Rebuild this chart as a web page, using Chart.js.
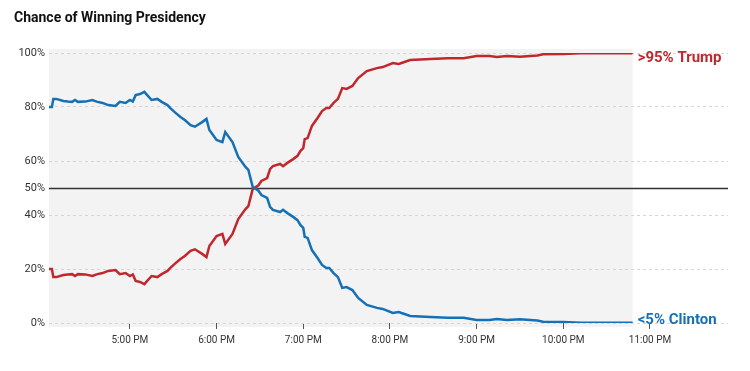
<!DOCTYPE html>
<html>
<head>
<meta charset="utf-8">
<script src="https://cdn.jsdelivr.net/npm/chart.js@4.4.1/dist/chart.umd.min.js"></script>
<style>
  html, body { margin: 0; padding: 0; background: #fff; }
</style>
</head>
<body>
<canvas id="chance" width="750" height="371"></canvas>
<script>
// times of each forecast update (evening, 24h clock)
var times = ["16:04", "16:06", "16:07", "16:09", "16:14", "16:17", "16:20", "16:22", "16:24", "16:29",
  "16:34", "16:37", "16:41", "16:45", "16:50", "16:53", "16:57", "17:00", "17:02", "17:04",
  "17:07", "17:10", "17:12", "17:15", "17:19", "17:22", "17:26", "17:28", "17:31", "17:35",
  "17:38", "17:42", "17:45", "17:50", "17:53", "17:55", "18:00", "18:04", "18:06", "18:11",
  "18:15", "18:20", "18:22", "18:25", "18:29", "18:31", "18:35", "18:37", "18:39", "18:44",
  "18:46", "18:49", "18:53", "18:56", "18:58", "19:00", "19:01", "19:03", "19:06", "19:10",
  "19:13", "19:16", "19:18", "19:21", "19:24", "19:27", "19:30", "19:34", "19:38", "19:44",
  "19:51", "19:55", "20:02", "20:06", "20:08", "20:14", "20:28", "20:40", "20:51", "21:00",
  "21:09", "21:14", "21:21", "21:30", "21:42", "21:46", "22:00", "22:12", "22:48"];

var clinton = [80, 80, 83, 83, 82.2, 82, 81.9, 82.6, 81.9, 82,
  82.6, 82, 81.5, 80.7, 80.4, 81.9, 81.5, 82.6, 82, 84.4,
  84.8, 85.6, 84.4, 82.6, 83, 81.9, 80.7, 79.6, 78.1, 76.3,
  75.2, 73.3, 72.7, 74.4, 75.6, 71.5, 67.8, 67, 70.7, 67,
  61.5, 57.8, 56.7, 50.4, 49, 47.4, 46.3, 43, 41.9, 41.1,
  41.9, 40.7, 39.3, 38.1, 36.3, 35.2, 31.9, 31.5, 27, 24,
  21.5, 20.4, 20.4, 18.5, 17, 13, 13.3, 12.2, 9.3, 6.7,
  5.6, 5.2, 3.7, 4.1, 3.7, 2.6, 2.2, 1.9, 1.9, 1.1,
  1.1, 1.5, 1.1, 1.4, 0.9, 0.5, 0.4, 0.1, 0.1];

var trump = [20, 20, 17, 17, 17.8, 18, 18.1, 17.4, 18.1, 18,
  17.4, 18, 18.5, 19.3, 19.6, 18.1, 18.5, 17.4, 18, 15.6,
  15.2, 14.4, 15.6, 17.4, 17, 18.1, 19.3, 20.4, 21.9, 23.7,
  24.8, 26.7, 27.3, 25.6, 24.4, 28.5, 32.2, 33, 29.3, 33,
  38.5, 42.2, 43.3, 49.6, 51, 52.6, 53.7, 57, 58.1, 58.9,
  58.1, 59.3, 60.7, 61.9, 63.7, 64.8, 68.1, 68.5, 73, 76,
  78.5, 79.6, 79.6, 81.5, 83, 87, 86.7, 87.8, 90.7, 93.3,
  94.4, 94.8, 96.3, 95.9, 96.3, 97.4, 97.8, 98.1, 98.1, 98.9,
  98.9, 98.5, 98.9, 98.6, 99.1, 99.5, 99.6, 99.9, 99.9];

var yTicks = [0, 20, 40, 50, 60, 80, 100];
var hourTicks = ["17:00", "18:00", "19:00", "20:00", "21:00", "22:00", "23:00"];

var RED = '#c1272d';
var BLUE = '#1570b5';

function toMin(t) {
  var p = t.split(':');
  return parseInt(p[0], 10) * 60 + parseInt(p[1], 10);
}

function pts(vals) {
  return vals.map(function (v, i) { return { x: toMin(times[i]), y: v }; });
}

var lastX = toMin(times[times.length - 1]);

var decor = {
  id: 'decor',
  beforeDraw: function (chart) {
    var c = chart.ctx, a = chart.chartArea;
    var xr = chart.scales.x.getPixelForValue(lastX);
    c.save();
    c.fillStyle = '#f3f3f3';
    c.fillRect(a.left, a.top - 4, xr - a.left, a.bottom - a.top + 8);
    c.restore();
  },
  beforeDatasetsDraw: function (chart) {
    var c = chart.ctx, a = chart.chartArea;
    var y = Math.round(chart.scales.y.getPixelForValue(50)) + 0.5;
    c.save();
    c.strokeStyle = '#333';
    c.lineWidth = 1.3;
    c.beginPath();
    c.moveTo(a.left, y);
    c.lineTo(a.right, y);
    c.stroke();
    c.restore();
  },
  afterDraw: function (chart) {
    var c = chart.ctx;
    var xr = chart.scales.x.getPixelForValue(lastX);
    c.save();
    c.textBaseline = 'middle';
    c.fillStyle = '#111';
    c.font = 'bold 14px Roboto, "Liberation Sans", sans-serif';
    c.fillText('Chance of Winning Presidency', 14, 18);
    c.font = 'bold 15px Roboto, "Liberation Sans", sans-serif';
    c.fillStyle = RED;
    c.fillText('>95% Trump', xr + 5, chart.scales.y.getPixelForValue(trump[trump.length - 1]) + 5);
    c.fillStyle = BLUE;
    c.fillText('<5% Clinton', xr + 5, chart.scales.y.getPixelForValue(clinton[clinton.length - 1]) - 2);
    c.restore();
  }
};

var ctx = document.getElementById('chance').getContext('2d');
window.chanceChart = new Chart(ctx, {
  type: 'line',
  data: {
    datasets: [{
      label: 'Clinton',
      data: pts(clinton),
      borderColor: BLUE,
      borderWidth: 2.5,
      pointRadius: 0,
      tension: 0
    }, {
      label: 'Trump',
      data: pts(trump),
      borderColor: RED,
      borderWidth: 2.5,
      pointRadius: 0,
      tension: 0
    }]
  },
  options: {
    responsive: false,
    animation: false,
    devicePixelRatio: 1,
    layout: { padding: { top: 53, right: 22, left: 0, bottom: 0 } },
    plugins: {
      legend: { display: false },
      tooltip: { enabled: false }
    },
    scales: {
      x: {
        type: 'linear',
        min: 964,
        max: 1434,
        afterBuildTicks: function (scale) {
          scale.ticks = hourTicks.map(function (t) { return { value: toMin(t) }; });
        },
        afterFit: function (scale) { scale.height = 48; },
        border: { display: false },
        grid: {
          drawOnChartArea: false,
          drawTicks: true,
          tickLength: 6,
          color: '#555'
        },
        ticks: {
          color: '#333',
          padding: 5,
          maxRotation: 0,
          font: { family: 'Roboto, "Liberation Sans", sans-serif', size: 10 },
          callback: function (v) {
            var h = Math.round(v / 60);
            return (h > 12 ? h - 12 : h) + ':00 PM';
          }
        }
      },
      y: {
        min: 0,
        max: 100,
        afterBuildTicks: function (scale) {
          scale.ticks = yTicks.map(function (v) { return { value: v }; });
        },
        afterFit: function (scale) { scale.width = 49; },
        border: { display: false, dash: [3, 3] },
        grid: {
          drawTicks: false,
          color: function (context) {
            return context.tick && context.tick.value === 50 ? 'rgba(0,0,0,0)' : '#d6d6d6';
          }
        },
        ticks: {
          color: '#333',
          padding: 4,
          font: { family: 'Roboto, "Liberation Sans", sans-serif', size: 11 },
          callback: function (v) { return v + '%'; }
        }
      }
    }
  },
  plugins: [decor]
});
</script>
</body>
</html>
